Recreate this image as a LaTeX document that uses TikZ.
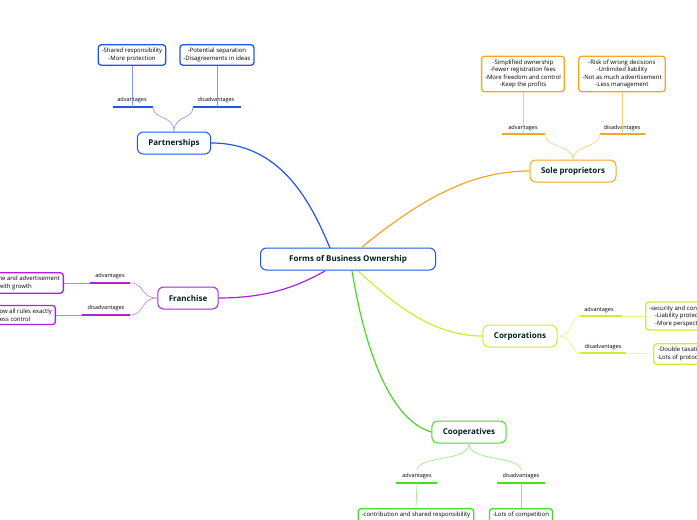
\documentclass[tikz,border=0pt]{standalone}
\usepackage{fontspec}
\setmainfont{Open Sans}
\begin{document}
\begin{tikzpicture}[x=1pt,y=-1pt,
 main/.style={draw=#1,line width=1pt,rounded corners=6pt,fill=white,font=\fontsize{8}{9}\selectfont\bfseries,text=black!75!teal,minimum height=22pt,inner xsep=11pt},
 leaf/.style={draw=#1,line width=1.3pt,rounded corners=3pt,fill=white,font=\fontsize{6}{7.5}\selectfont,align=center,inner sep=3.5pt},
 lab/.style={font=\fontsize{5.5}{6}\selectfont,inner sep=1pt},
 ul/.style={draw=#1,line width=1.2pt},
 br/.style={draw=#1!60,line width=0.6pt},
 trunk/.style={draw=#1,line width=1.2pt}]
\definecolor{cb}{HTML}{2255EE}
\definecolor{co}{HTML}{F5A623}
\definecolor{cp}{HTML}{AA22DD}
\definecolor{cy}{HTML}{CCEE33}
\definecolor{cg}{HTML}{44DD22}
\useasboundingbox (0,0) rectangle (697,520);
% central
\node[main=cb,minimum width=175pt] (c) at (348,259) {Forms of Business Ownership};
% partnerships
\node[main=cb] (p) at (174,143) {Partnerships};
\draw[trunk=cb] (p.east) .. controls (280,143) and (310,200) .. (330,248);
\node[lab] (pa) at (132,100) {advantages};
\node[lab] (pd) at (216,100) {disadvantages};
\coordinate (pa1) at (113,107); \coordinate (pa2) at (153,107);
\coordinate (pd1) at (193,107); \coordinate (pd2) at (241,107);
\draw[ul=cb] (pa1)--(pa2); \draw[ul=cb] (pd1)--(pd2);
\draw[br=cb] (p.north) .. controls (174,115) and (153,120) .. (pa2);
\draw[br=cb] (p.north) .. controls (174,115) and (193,120) .. (pd1);
\node[leaf=cb] (pl1) at (132,55) {-Shared responsibility\\-More protection};
\node[leaf=cb] (pl2) at (217,55) {-Potential separation\\-Disagreements in ideas};
\draw[br=cb] (pl1.south)--(132,107); \draw[br=cb] (pl2.south)--(217,107);
% sole
\node[main=co] (s) at (573,171) {Sole proprietors};
\draw[trunk=co] (362,247) .. controls (420,200) and (470,171) .. (s.west);
\node[lab] (sa) at (523,128) {advantages};
\node[lab] (sd) at (622,128) {disadvantages};
\coordinate (sa1) at (502,134); \coordinate (sa2) at (545,134);
\coordinate (sd1) at (600,134); \coordinate (sd2) at (645,134);
\draw[ul=co] (sa1)--(sa2); \draw[ul=co] (sd1)--(sd2);
\draw[br=co] (s.north) .. controls (573,145) and (545,148) .. (sa2);
\draw[br=co] (s.north) .. controls (573,145) and (600,148) .. (sd1);
\node[leaf=co] (sl1) at (523,74) {-Simplified ownership\\-Fewer registration fees\\-More freedom and control\\-Keep the profits};
\node[leaf=co] (sl2) at (622,74) {-Risk of wrong decisions\\-Unlimited liability\\-Not as much advertisement\\-Less management};
\draw[br=co] (sl1.south)--(523,134); \draw[br=co] (sl2.south)--(622,134);
% franchise
\node[main=cp] (f) at (188,298) {Franchise};
\draw[trunk=cp] (f.east) .. controls (270,298) and (300,285) .. (325,271);
\node[lab] (fa) at (110,276) {advantages};
\node[lab] (fd) at (106,308) {disadvantages};
\coordinate (fa1) at (90,283); \coordinate (fa2) at (130,283);
\coordinate (fd1) at (82,315); \coordinate (fd2) at (130,315);
\draw[ul=cp] (fa1)--(fa2); \draw[ul=cp] (fd1)--(fd2);
\draw[br=cp] (f.west) .. controls (140,298) and (145,283) .. (fa2);
\draw[br=cp] (f.west) .. controls (140,298) and (145,315) .. (fd2);
\node[leaf=cp,anchor=east] (fl1) at (64,283) {-Established name and advertisement\\-Help with growth};
\node[leaf=cp,anchor=east] (fl2) at (56,315) {-Must follow all rules exactly\\-Less control};
\draw[br=cp] (fl1.east)--(fa1); \draw[br=cp] (fl2.east)--(fd1);
% corporations
\node[main=cy] (k) at (520,336) {Corporations};
\draw[trunk=cy] (358,271) .. controls (390,300) and (430,336) .. (k.west);
\node[lab] (ka) at (599,310) {advantages};
\node[lab] (kd) at (603,347) {disadvantages};
\coordinate (ka1) at (580,316); \coordinate (ka2) at (622,316);
\coordinate (kd1) at (580,353); \coordinate (kd2) at (626,353);
\draw[ul=cy] (ka1)--(ka2); \draw[ul=cy] (kd1)--(kd2);
\draw[br=cy] (k.east) .. controls (575,336) and (570,316) .. (ka1);
\draw[br=cy] (k.east) .. controls (575,336) and (570,353) .. (kd1);
\node[leaf=cy,anchor=west] (kl1) at (645,316) {-security and continuity\\-Liability protection\\-More perspectives};
\node[leaf=cy,anchor=west] (kl2) at (653,354) {-Double taxation\\-Lots of protocols};
\draw[br=cy] (ka2)--(kl1.west); \draw[br=cy] (kd2)--(kl2.west);
% cooperatives
\node[main=cg] (g) at (469,432) {Cooperatives};
\draw[trunk=cg] (352,271) .. controls (365,350) and (390,420) .. (g.west);
\node[lab] (ga) at (417,476) {advantages};
\node[lab] (gd) at (521,476) {disadvantages};
\coordinate (ga1) at (396,483); \coordinate (ga2) at (437,483);
\coordinate (gd1) at (497,483); \coordinate (gd2) at (545,483);
\draw[ul=cg] (ga1)--(ga2); \draw[ul=cg] (gd1)--(gd2);
\draw[br=cg] (g.south) .. controls (469,462) and (420,455) .. (417,470);
\draw[br=cg] (g.south) .. controls (469,462) and (518,455) .. (521,470);
\node[leaf=cg,anchor=north] (gl1) at (416,508) {-contribution and shared responsibility\\ };
\node[leaf=cg,anchor=north] (gl2) at (521,508) {-Lots of competition\\ };
\draw[br=cg] (417,483)--(gl1.north); \draw[br=cg] (521,483)--(gl2.north);
\end{tikzpicture}
\end{document}
